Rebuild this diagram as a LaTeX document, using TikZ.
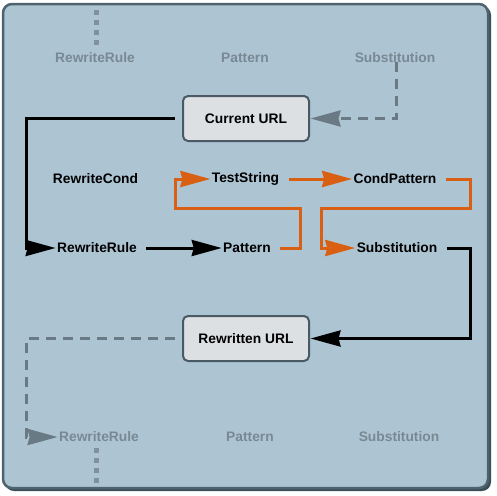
\documentclass[tikz,border=0pt]{standalone}
\usepackage{fontspec}
\setmainfont{Liberation Sans}
\usetikzlibrary{arrows.meta}
\definecolor{bgc}{RGB}{173,197,211}
\definecolor{framec}{RGB}{79,99,110}
\definecolor{shadowc}{RGB}{60,78,88}
\definecolor{boxfill}{RGB}{221,224,227}
\definecolor{boxline}{RGB}{74,90,100}
\definecolor{graytext}{RGB}{120,137,148}
\definecolor{grayline}{RGB}{105,122,132}
\definecolor{dotc}{RGB}{128,145,156}
\definecolor{orangec}{RGB}{217,96,18}
\tikzset{
  lbl/.style={font=\fontsize{13.8}{16}\selectfont\bfseries, inner sep=0pt, outer sep=1.5pt},
  ghost/.style={lbl, text=graytext},
  urlbox/.style={lbl, draw=boxline, line width=2pt, fill=boxfill, rounded corners=5pt,
     minimum width=126pt, minimum height=45pt, outer sep=0pt},
  tip/.style={-{Stealth[length=30pt,width=16pt,inset=2pt]}},
  blk/.style={draw=black, line width=3pt, tip},
  org/.style={draw=orangec, line width=3pt, tip},
  gdash/.style={draw=grayline, line width=3pt, dash pattern=on 10pt off 7pt, tip},
  gdot/.style={draw=dotc, line width=4.5pt, dash pattern=on 4.5pt off 5.5pt},
}
\begin{document}
\begin{tikzpicture}[x=1pt,y=-1pt]
\useasboundingbox (0,0) rectangle (496,496);
% frame
\fill[shadowc, rounded corners=9pt] (5,6) rectangle (491,491);
\filldraw[fill=bgc, draw=framec, line width=2.5pt, rounded corners=9pt] (3,4) rectangle (488,488);

% top ghost row
\node[ghost] (tr) at (95,58) {RewriteRule};
\node[ghost] (tp) at (245,58) {Pattern};
\node[ghost] (ts) at (395,58) {Substitution};
% bottom ghost row
\node[ghost] (br) at (99,437) {RewriteRule};
\node[ghost] (bp) at (250,437) {Pattern};
\node[ghost] (bs) at (399,437) {Substitution};

% boxes
\node[urlbox] (cur) at (246,118.5) {Current URL};
\node[urlbox] (rew) at (246,338.5) {Rewritten URL};

% middle rows
\node[lbl] (rc) at (95.5,179) {RewriteCond};
\node[lbl] (tst) at (245.5,179) {TestString};
\node[lbl] (cp) at (395,179) {CondPattern};
\node[lbl] (rr) at (97,248) {RewriteRule};
\node[lbl] (pat) at (247,248) {Pattern};
\node[lbl] (sub) at (397,248) {Substitution};

% waypoints
\coordinate (c1) at (26,118.5);
\coordinate (c2) at (300,208);
\coordinate (c3) at (175,208);
\coordinate (c4) at (470,208);
\coordinate (c5) at (321,208);
\coordinate (c6) at (470,338.5);
\coordinate (c7) at (26,338.5);
\coordinate (c8) at (396,118.5);

% dotted stubs
\draw[gdot] (96.5,10) -- (96.5,46);
\draw[gdot] (96.5,448) -- (96.5,484);

% dashed ghost connectors
\draw[gdash] ([yshift=3pt]ts.south -| c8) -- (c8) -- ([xshift=1.5pt]cur.east);
\draw[gdash] ([xshift=-8pt]rew.west) -- (c7) |- (br.west);

% black connectors
\draw[blk] ([xshift=-8pt]cur.west) -- (c1) |- (rr.west);
\draw[blk] ([xshift=8pt]rr.east) -- (pat.west);
\draw[blk] ([xshift=8pt]sub.east) -| (c6) -- ([xshift=1.5pt]rew.east);

% orange connectors
\draw[org] ([xshift=8pt]pat.east) -| (c2) -- (c3) |- (tst.west);
\draw[org] ([xshift=8pt]tst.east) -- (cp.west);
\draw[org] ([xshift=8pt]cp.east) -| (c4) -- (c5) |- (sub.west);
\end{tikzpicture}
\end{document}
